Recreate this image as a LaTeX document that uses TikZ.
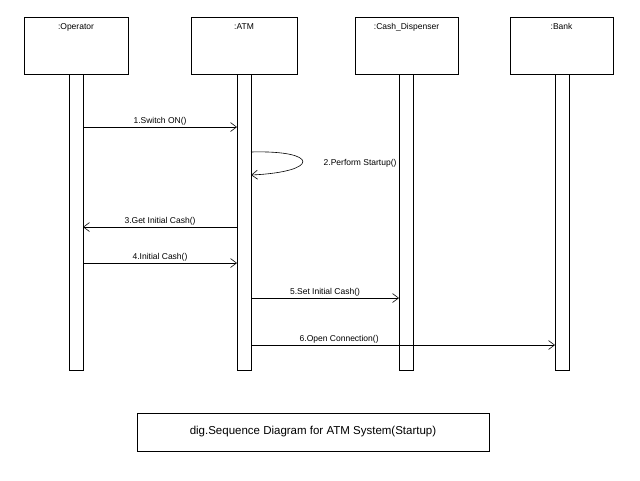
\documentclass[tikz,border=0pt]{standalone}
\usepackage{fontspec}
\setmainfont{Liberation Sans}
\usetikzlibrary{arrows.meta}
\begin{document}
\begin{tikzpicture}[x=1pt,y=-1pt,
  obj/.style={draw,line width=0.6pt},
  lbl/.style={font=\fontsize{8.5}{10}\selectfont,inner sep=1.5pt},
  msg/.style={-{Straight Barb[length=6pt,width=9pt]},line width=0.6pt}]
\useasboundingbox (0,0) rectangle (640,480);
\foreach \n/\a/\b/\bx/\t in {op/24/128/69/:Operator,atm/191/297/237/:ATM,cd/355/458/399/:Cash\_Dispenser,bk/510/613/555/:Bank}{
  \draw[obj] (\a,17) rectangle (\b,74);
  \node[lbl,anchor=north] (\n) at ({(\a+\b)/2},22) {\t};
  \draw[obj] (\bx,74) rectangle (\bx+14,370);
}
\coordinate (m1s) at (83,127); \coordinate (m1e) at (237,127);
\draw[msg] (m1s) -- node[lbl,above]{1.Switch ON()} (m1e);
\coordinate (s1) at (251,152); \coordinate (s2) at (251,175);
\draw[msg] (s1) .. controls (320,150) and (320,172) .. (s2);
\node[lbl,anchor=west] (sl) at (322,163) {2.Perform Startup()};
\coordinate (m3s) at (237,227); \coordinate (m3e) at (83,227);
\draw[msg] (m3s) -- node[lbl,above]{3.Get Initial Cash()} (m3e);
\coordinate (m4s) at (83,263); \coordinate (m4e) at (237,263);
\draw[msg] (m4s) -- node[lbl,above]{4.Initial Cash()} (m4e);
\coordinate (m5s) at (251,298); \coordinate (m5e) at (399,298);
\draw[msg] (m5s) -- node[lbl,above]{5.Set Initial Cash()} (m5e);
\coordinate (m6s) at (251,345); \coordinate (m6e) at (555,345);
\draw[msg] (m6s) -- node[lbl,above,pos=0.29]{6.Open Connection()} (m6e);
\draw[obj] (137,413) rectangle (489,451);
\node[font=\fontsize{11.5}{13}\selectfont] (cap) at (313,432) {dig.Sequence Diagram for ATM System(Startup)};
\end{tikzpicture}
\end{document}
